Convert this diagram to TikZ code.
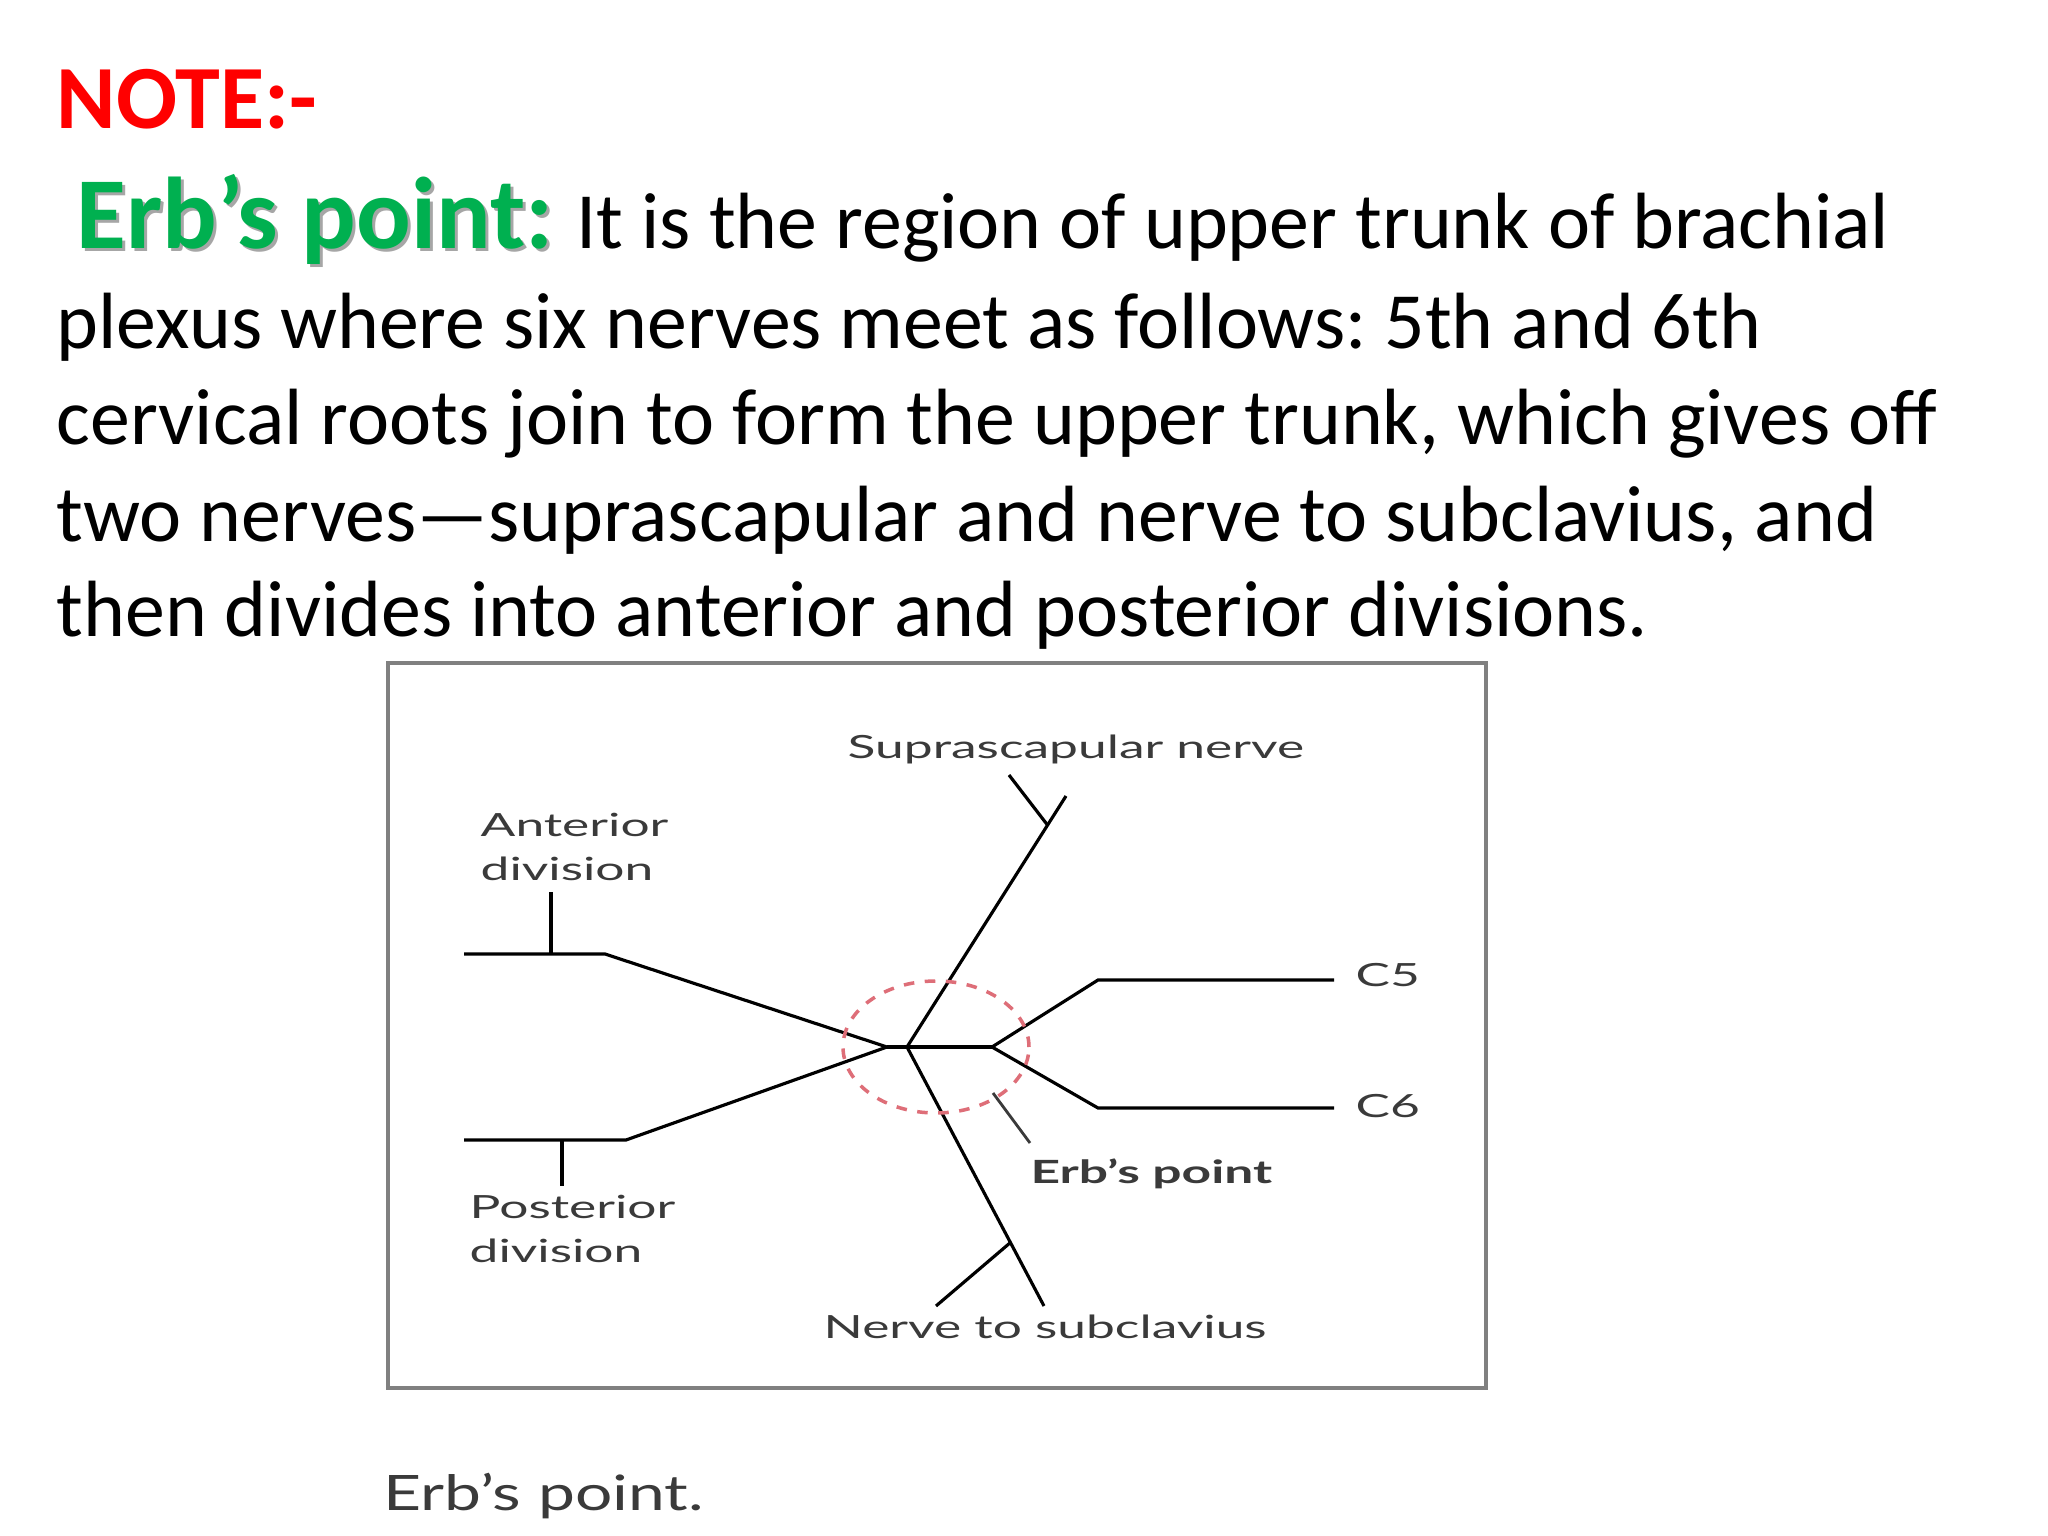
\documentclass[tikz,border=0pt]{standalone}
\usepackage{fontspec}
\setmainfont{Carlito}
\newfontfamily\lblfont[FakeStretch=1.61]{Lato}
\newfontfamily\capfont[FakeStretch=1.35]{Lato}
\usepackage{tikz}
\usetikzlibrary{positioning,calc}
\frenchspacing

\definecolor{notered}{RGB}{255,0,0}
\definecolor{erbgreen}{RGB}{0,176,80}
\definecolor{lblgray}{RGB}{58,58,58}
\definecolor{framegray}{RGB}{128,128,128}
\definecolor{circred}{RGB}{222,110,120}

\begin{document}
\begin{tikzpicture}[
			bodytxt/.style={anchor=base west, inner sep=0pt, font=\fontsize{22.7}{27}\selectfont},
			lbl/.style={anchor=base west, inner sep=0pt, text=lblgray, font=\lblfont\fontsize{9.1}{12.5}\selectfont, align=left},
			nerve/.style={line width=0.9pt, black},
			frame/.style={draw=framegray, line width=1.1pt}
		]
		\useasboundingbox[fill=white] (0,0) rectangle (20.48,-15.36);

		% heading and text
		\node[bodytxt, text=notered, font=\bfseries\fontsize{25.7}{30}\selectfont] (note) at (0.56,-1.29) {NOTE:-};
		\node[bodytxt, text=black!35, font=\bfseries\fontsize{29}{34}\selectfont] (erbshadow) at (0.79,-2.52) {Erb’s point:};
		\node[bodytxt, text=erbgreen, font=\bfseries\fontsize{29}{34}\selectfont] (erbhead) at (0.76,-2.49) {Erb’s point:};
		\node[bodytxt] (line1) at (5.76,-2.49) {It is the region of upper trunk of brachial};
		\node[bodytxt] (line2) at (0.56,-3.49) {plexus where six nerves meet as follows: 5th and 6th};
		\node[bodytxt] (line3) at (0.56,-4.45) {cervical roots join to form the upper trunk, which gives off};
		\node[bodytxt] (line4) at (0.56,-5.42) {two nerves—suprascapular and nerve to subclavius, and};
		\node[bodytxt] (line5) at (0.56,-6.37) {then divides into anterior and posterior divisions.};

		% frame of the figure
		\draw[frame] (3.88,-6.63) rectangle (14.86,-13.88);

		% junctions
		\coordinate (erb) at (8.87,-10.47);
		\coordinate (trunk) at (9.07,-10.47);
		\coordinate (fork) at (9.92,-10.47);

		% roots
		\coordinate (c5bend) at (10.98,-9.80);
		\coordinate (c5end) at (13.34,-9.80);
		\coordinate (c6bend) at (10.98,-11.08);
		\coordinate (c6end) at (13.34,-11.08);
		\draw[nerve] (erb) -- (fork);
		\draw[nerve] (fork) -- (c5bend) -- (c5end);
		\draw[nerve] (fork) -- (c6bend) -- (c6end);

		% divisions
		\coordinate (antbend) at (6.05,-9.54);
		\coordinate (antend) at (4.64,-9.54);
		\coordinate (anttick) at (5.51,-9.54);
		\coordinate (anttop) at (5.51,-8.92);
		\coordinate (posbend) at (6.26,-11.40);
		\coordinate (posend) at (4.64,-11.40);
		\coordinate (postick) at (5.62,-11.40);
		\coordinate (posbot) at (5.62,-11.86);
		\draw[nerve] (erb) -- (antbend) -- (antend);
		\draw[nerve] (erb) -- (posbend) -- (posend);
		\draw[nerve] (anttick) -- (anttop);
		\draw[nerve] (postick) -- (posbot);

		% branches of the trunk
		\coordinate (supend) at (10.66,-7.96);
		\coordinate (subend) at (10.44,-13.06);
		\coordinate (suptick) at (10.09,-7.75);
		\coordinate (subtick) at (9.36,-13.06);
		\draw[nerve] (trunk) -- (supend);
		\draw[nerve] (trunk) -- (subend);
		\draw[nerve] (suptick) -- ($(trunk)!0.884!(supend)$);
		\draw[nerve] (subtick) -- ($(trunk)!0.755!(subend)$);

		% erb's point
		\coordinate (ptrstart) at (9.93,-10.93);
		\coordinate (ptrend) at (10.30,-11.43);
		\draw[circred, line width=1pt, dash pattern=on 3pt off 3pt] (9.36,-10.47) ellipse [x radius=0.93, y radius=0.66];
		\draw[lblgray, line width=0.8pt] (ptrstart) -- (ptrend);

		% labels
		\node[lbl] (supra) at (8.47,-7.58) {Suprascapular nerve};
		\node[lbl] (ant) at (4.80,-8.80) {Anterior\\division};
		\node[lbl] (pos) at (4.69,-12.62) {Posterior\\division};
		\node[lbl] (c5) at (13.55,-9.86) {C5};
		\node[lbl] (c6) at (13.55,-11.17) {C6};
		\node[lbl, font=\lblfont\bfseries\fontsize{9.1}{12.5}\selectfont] (erbpt) at (10.30,-11.83) {Erb’s point};
		\node[lbl] (subcl) at (8.23,-13.38) {Nerve to subclavius};

		\node[lbl, font=\capfont\fontsize{13.9}{16}\selectfont] (caption) at (3.83,-15.10) {Erb’s point.};
	\end{tikzpicture}
\end{document}
